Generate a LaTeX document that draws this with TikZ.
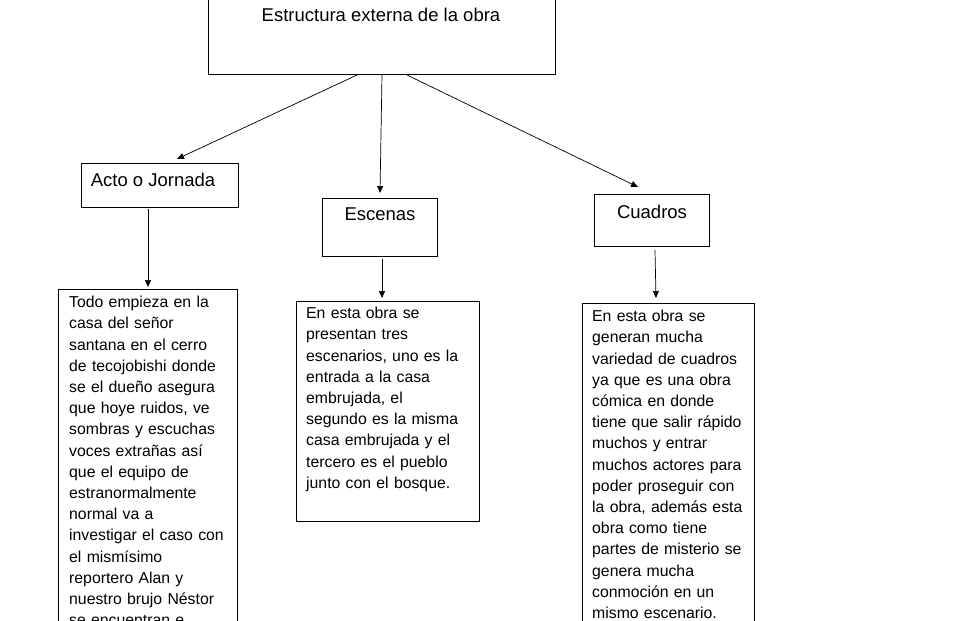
\documentclass[tikz,border=0pt]{standalone}
\usepackage{fontspec}
\setmainfont{Liberation Sans}
\usetikzlibrary{arrows.meta}
\begin{document}
\begin{tikzpicture}[x=1pt,y=-1pt,
  box/.style={draw,line width=0.8pt},
  title/.style={font=\fontsize{18.5}{20}\selectfont},
  body/.style={font=\fontsize{15.8}{21.2}\selectfont,align=left,anchor=north west,inner sep=0pt},
  arr/.style={-{Triangle[length=7pt,width=6pt]},line width=0.7pt}]
\useasboundingbox (0,0) rectangle (962,621);
\clip (0,0) rectangle (962,621);
\draw[box] (208,-2) rectangle (555,74);
\node[title] (t) at (381,15) {Estructura externa de la obra};
\draw[box] (81,163) rectangle (238,207);
\node[title] (a) at (153,180) {Acto o Jornada};
\draw[box] (322,198) rectangle (437,256);
\node[title] (e) at (380,214) {Escenas};
\draw[box] (594,194) rectangle (709,246);
\node[title] (c) at (652,212) {Cuadros};
\coordinate (t1) at (357,75); \coordinate (a1) at (177,159);
\coordinate (t2) at (382,75); \coordinate (e1) at (380,193);
\coordinate (t3) at (407,75); \coordinate (c1) at (638,187);
\draw[arr] (t1) -- (a1);
\draw[arr] (t2) -- (e1);
\draw[arr] (t3) -- (c1);
\coordinate (a2) at (148,209); \coordinate (l1) at (148,287);
\coordinate (e2) at (382,259); \coordinate (m1) at (382,298);
\coordinate (c2) at (655,250); \coordinate (r1) at (656,298);
\draw[arr] (a2) -- (l1);
\draw[arr] (e2) -- (m1);
\draw[arr] (c2) -- (r1);
\draw[box] (58,289) rectangle (237,640);
\node[body,text width=165pt] (lt) at (69,296) {Todo empieza en la\\casa del señor\\santana en el cerro\\de tecojobishi donde\\se el dueño asegura\\que hoye ruidos, ve\\sombras y escuchas\\voces extrañas así\\que el equipo de\\estranormalmente\\normal va a\\investigar el caso con\\el mismísimo\\reportero Alan y\\nuestro brujo Néstor\\se encuentran e};
\draw[box] (296,301) rectangle (479,521);
\node[body,text width=170pt] (mt) at (306,307) {En esta obra se\\presentan tres\\escenarios, uno es la\\entrada a la casa\\embrujada, el\\segundo es la misma\\casa embrujada y el\\tercero es el pueblo\\junto con el bosque.};
\draw[box] (582,303) rectangle (754,640);
\node[body,text width=165pt] (rt) at (592,310) {En esta obra se\\generan mucha\\variedad de cuadros\\ya que es una obra\\cómica en donde\\tiene que salir rápido\\muchos y entrar\\muchos actores para\\poder proseguir con\\la obra, además esta\\obra como tiene\\partes de misterio se\\genera mucha\\conmoción en un\\mismo escenario.};
\end{tikzpicture}
\end{document}
